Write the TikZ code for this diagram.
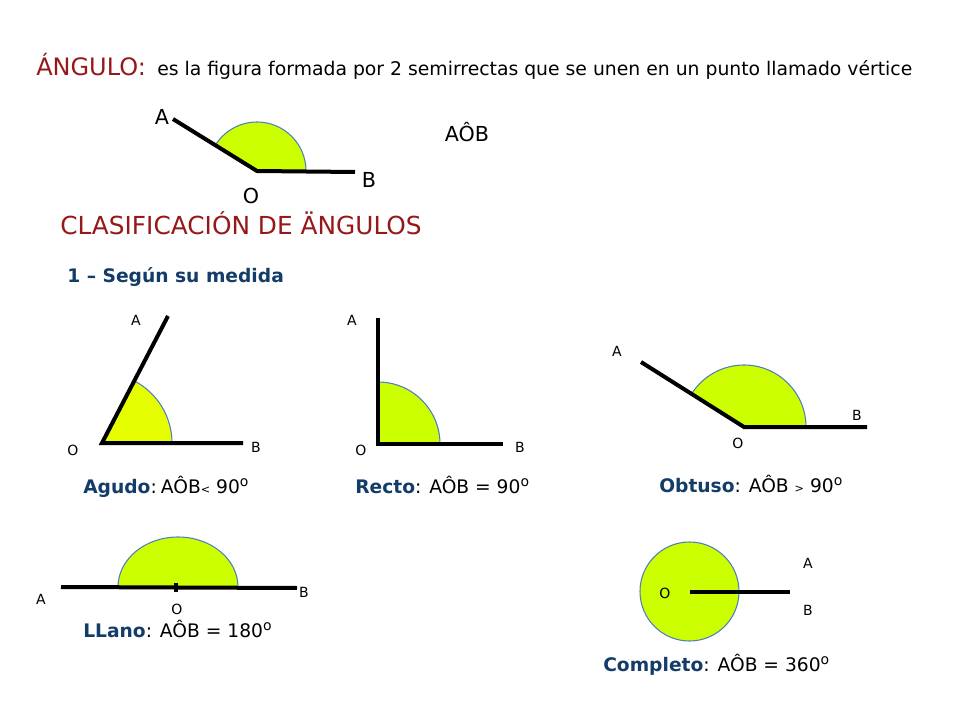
\documentclass[tikz,border=0pt]{standalone}
\usepackage{fontspec}
\setmainfont{DejaVu Sans}
\usepackage{graphicx}
\definecolor{rojo}{RGB}{150,25,25}
\definecolor{azul}{RGB}{20,60,105}
\definecolor{verde}{RGB}{204,255,0}
\definecolor{amarillo}{RGB}{230,255,0}
\definecolor{bordeazul}{RGB}{80,125,190}
\newcommand{\gr}{\raisebox{.6ex}{\scalebox{.75}{o}}}
\newcommand{\chico}[1]{\scalebox{.6}{#1}}
\begin{document}
\begin{tikzpicture}[x=0.75pt,y=-0.75pt,
  raya/.style={line width=3pt},
  arco/.style={draw=bordeazul,line width=0.8pt},
  letra/.style={inner sep=0pt,font=\fontsize{15.5}{18}\selectfont},
  lbl/.style={inner sep=0pt,font=\fontsize{10.5}{12}\selectfont},
  txt/.style={anchor=base west,inner sep=0pt,font=\fontsize{14}{16}\selectfont}]
\useasboundingbox[fill=white] (0,0) rectangle (960,720);

\node[txt,font=\fontsize{18}{20}\selectfont,text=rojo] (titulo) at (36,76) {ÁNGULO:};
\node[txt,font=\fontsize{14.1}{16}\selectfont] (defin) at (157,76) {es la figura formada por 2 semirrectas que se unen en un punto llamado vértice};

% angulo principal
\coordinate (O) at (257,171);
\coordinate (A) at (173,119);
\coordinate (B) at (355,172);
\fill[verde] (O) -- ++(0:49) arc[start angle=0,end angle=-148,radius=49] -- cycle;
\draw[arco] (O) ++(0:49) arc[start angle=0,end angle=-148,radius=49];
\draw[raya] (A) -- (O) -- (B);
\node[letra] (lA) at (162,117) {A};
\node[letra] (lB) at (369,180) {B};
\node[letra] (lO) at (251,196) {O};
\node[letra] (aob) at (467,132) {AÔB};

\node[txt,font=\fontsize{18.6}{20}\selectfont,text=rojo] (clasif) at (60,235) {CLASIFICACIÓN DE ÄNGULOS};
\node[txt,font=\bfseries\fontsize{14}{16}\selectfont,text=azul] (medida) at (67,283) {1 – Según su medida};

% agudo
\coordinate (agO) at (102,443);
\coordinate (agA) at (168,316);
\coordinate (agB) at (243,443);
\fill[amarillo] (agO) -- ++(0:70) arc[start angle=0,end angle=-62.5,radius=70] -- cycle;
\draw[arco] (agO) ++(0:70) arc[start angle=0,end angle=-62.5,radius=70];
\draw[raya] (agA) -- (agO) -- (agB);
\node[lbl] (agLA) at (136,320) {A};
\node[lbl] (agLO) at (73,450) {O};
\node[lbl] (agLB) at (256,447) {B};
\node[txt] (agT) at (83,493) {\textcolor{azul}{\bfseries Agudo}:\hspace{.22em}AÔB\chico{<} 90\gr};

% recto
\coordinate (reO) at (378,444);
\coordinate (reA) at (378,318);
\coordinate (reB) at (503,444);
\fill[verde] (reO) -- ++(0:62) arc[start angle=0,end angle=-90,radius=62] -- cycle;
\draw[arco] (reO) ++(0:62) arc[start angle=0,end angle=-90,radius=62];
\draw[raya] (reA) -- (reO) -- (reB);
\node[lbl] (reLA) at (352,320) {A};
\node[lbl] (reLO) at (361,450) {O};
\node[lbl] (reLB) at (520,447) {B};
\node[txt] (reT) at (355,493) {\textcolor{azul}{\bfseries Recto}: AÔB = 90\gr};

% obtuso
\coordinate (obO) at (744,427);
\coordinate (obA) at (641,362);
\coordinate (obB) at (867,427);
\fill[verde] (obO) -- ++(0:62) arc[start angle=0,end angle=-147.8,radius=62] -- cycle;
\draw[arco] (obO) ++(0:62) arc[start angle=0,end angle=-147.8,radius=62];
\draw[raya] (obA) -- (obO) -- (obB);
\node[lbl] (obLA) at (617,351) {A};
\node[lbl] (obLB) at (857,415) {B};
\node[lbl] (obLO) at (738,443) {O};
\node[txt] (obT) at (659,492) {\textcolor{azul}{\bfseries Obtuso}: AÔB \chico{>} 90\gr};

% llano
\coordinate (llO) at (178,587);
\coordinate (llA) at (61,587);
\coordinate (llB) at (297,588);
\fill[verde] (llO) ++(60,0) arc[start angle=0,end angle=-180,x radius=60,y radius=50] -- cycle;
\draw[arco] (llO) ++(60,0) arc[start angle=0,end angle=-180,x radius=60,y radius=50];
\draw[raya] (llA) -- (llB);
\fill (174,583) rectangle (178,592);
\node[lbl] (llLA) at (41,599) {A};
\node[lbl] (llLB) at (304,592) {B};
\node[lbl] (llLO) at (177,609) {O};
\node[txt] (llT) at (83,637) {\textcolor{azul}{\bfseries LLano}: AÔB = 180\gr};

% completo
\coordinate (coC) at (689.5,591.5);
\coordinate (coO) at (690,592);
\coordinate (coB) at (790,592);
\filldraw[fill=verde,arco] (coC) circle[radius=49.5];
\draw[raya] (coO) -- (coB);
\node[lbl] (coLO) at (665,593) {O};
\node[lbl] (coLA) at (808,563) {A};
\node[lbl] (coLB) at (808,610) {B};
\node[txt] (coT) at (603,671) {\textcolor{azul}{\bfseries Completo}: AÔB = 360\gr};
\end{tikzpicture}
\end{document}
